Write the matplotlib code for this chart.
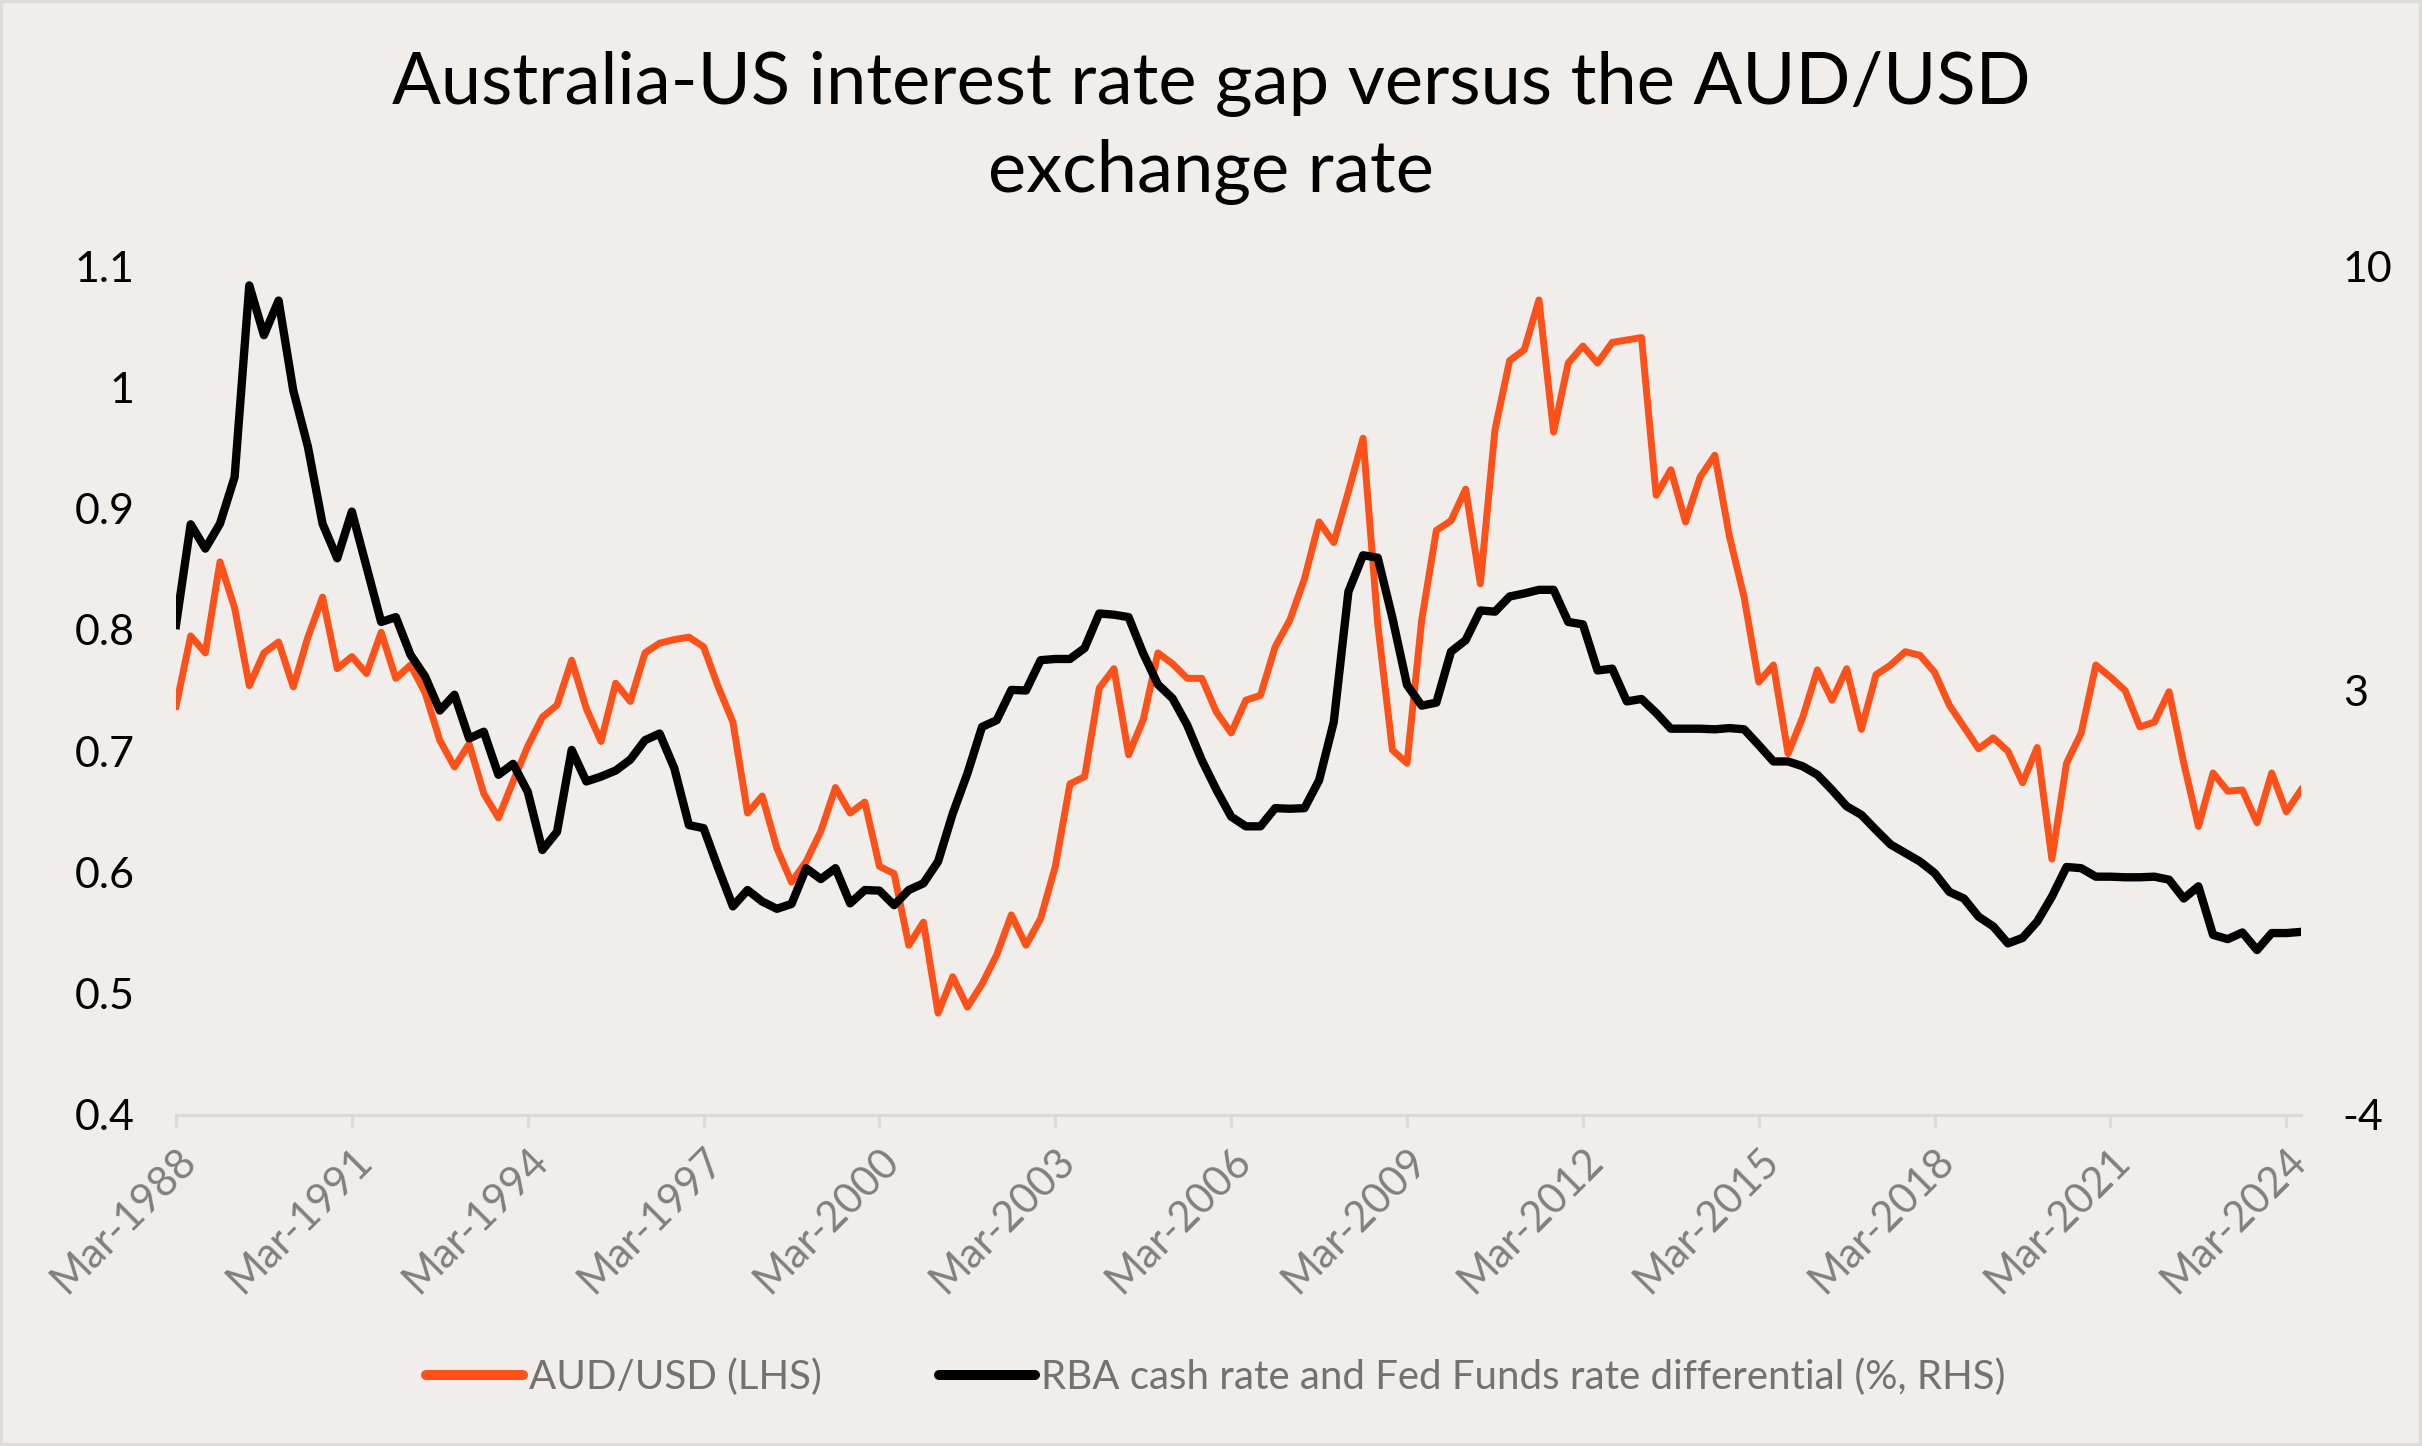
import matplotlib
matplotlib.use("Agg")
import matplotlib.pyplot as plt
from matplotlib.lines import Line2D
from matplotlib.patches import Rectangle
import numpy as np

# ---------------- data (quarterly, Mar-1988 .. Jun-2024) ----------------
aud_usd = [
    0.737, 0.795, 0.781, 0.856, 0.818, 0.754, 0.781, 0.790, 0.753, 0.794,
    0.827, 0.768, 0.778, 0.764, 0.798, 0.760, 0.771, 0.748, 0.709, 0.687,
    0.706, 0.665, 0.645, 0.675, 0.704, 0.728, 0.738, 0.775, 0.735, 0.708,
    0.756, 0.741, 0.781, 0.789, 0.792, 0.794, 0.786, 0.753, 0.724, 0.649,
    0.663, 0.620, 0.592, 0.609, 0.634, 0.670, 0.649, 0.658, 0.605, 0.599,
    0.540, 0.559, 0.484, 0.514, 0.489, 0.508, 0.532, 0.565, 0.540, 0.562,
    0.605, 0.673, 0.679, 0.752, 0.768, 0.697, 0.726, 0.781, 0.772, 0.760,
    0.760, 0.732, 0.715, 0.742, 0.746, 0.786, 0.808, 0.842, 0.889, 0.872,
    0.914, 0.958, 0.805, 0.701, 0.690, 0.808, 0.882, 0.890, 0.916, 0.838,
    0.965, 1.022, 1.031, 1.072, 0.963, 1.020, 1.034, 1.020, 1.037, 1.039,
    1.041, 0.911, 0.932, 0.889, 0.926, 0.944, 0.877, 0.827, 0.757, 0.771,
    0.698, 0.728, 0.767, 0.742, 0.768, 0.718, 0.763, 0.771, 0.782, 0.779,
    0.765, 0.738, 0.720, 0.702, 0.711, 0.700, 0.674, 0.703, 0.611, 0.690,
    0.715, 0.771, 0.761, 0.750, 0.720, 0.724, 0.749, 0.690, 0.638, 0.682,
    0.667, 0.668, 0.641, 0.682, 0.650, 0.668,
]

rate_diff = [
    4.08, 5.74, 5.34, 5.75, 6.52, 9.68, 8.86, 9.43, 7.95, 7.02,
    5.75, 5.18, 5.95, 5.04, 4.13, 4.21, 3.59, 3.23, 2.67, 2.93,
    2.21, 2.32, 1.61, 1.79, 1.33, 0.37, 0.67, 2.02, 1.50, 1.58,
    1.68, 1.86, 2.18, 2.29, 1.72, 0.78, 0.73, 0.07, -0.56, -0.29,
    -0.48, -0.60, -0.52, 0.07, -0.11, 0.07, -0.51, -0.29, -0.30, -0.54,
    -0.29, -0.18, 0.18, 0.97, 1.63, 2.40, 2.51, 3.01, 3.00, 3.50,
    3.52, 3.52, 3.70, 4.27, 4.25, 4.21, 3.61, 3.10, 2.87, 2.43,
    1.85, 1.36, 0.92, 0.76, 0.76, 1.06, 1.05, 1.06, 1.52, 2.48,
    4.63, 5.23, 5.19, 4.20, 3.09, 2.75, 2.80, 3.64, 3.83, 4.32,
    4.30, 4.55, 4.60, 4.66, 4.66, 4.13, 4.09, 3.33, 3.36, 2.82,
    2.86, 2.63, 2.37, 2.37, 2.37, 2.36, 2.38, 2.36, 2.10, 1.83,
    1.83, 1.75, 1.61, 1.36, 1.09, 0.95, 0.70, 0.46, 0.32, 0.18,
    -0.01, -0.32, -0.43, -0.73, -0.89, -1.17, -1.08, -0.81, -0.40, 0.09,
    0.07, -0.07, -0.07, -0.08, -0.08, -0.07, -0.12, -0.43, -0.23, -1.03,
    -1.10, -0.99, -1.28, -1.00, -1.00, -0.98,
]

tick_labels = ["Mar-1988", "Mar-1991", "Mar-1994", "Mar-1997", "Mar-2000",
               "Mar-2003", "Mar-2006", "Mar-2009", "Mar-2012", "Mar-2015",
               "Mar-2018", "Mar-2021", "Mar-2024"]
left_ticks = [0.4, 0.5, 0.6, 0.7, 0.8, 0.9, 1.0, 1.1]
left_tick_labels = ["0.4", "0.5", "0.6", "0.7", "0.8", "0.9", "1", "1.1"]
right_ticks = [-4, 3, 10]

title_line1 = "Australia-US interest rate gap versus the AUD/USD"
title_line2 = "exchange rate"
label_aud = "AUD/USD (LHS)"
label_diff = "RBA cash rate and Fed Funds rate differential (%, RHS)"

# ---------------- style ----------------
BG = "#F0EDEA"
ORANGE = "#FC5119"
GRID = "#D9D9D9"
GREY_TXT = "#767171"
FONT = ["Lato", "DejaVu Sans"]

plt.rcParams["font.family"] = FONT

DPI = 200
fig = plt.figure(figsize=(2422 / DPI, 1446 / DPI), dpi=DPI, facecolor=BG)
ax = fig.add_axes([176 / 2422, 1 - 1115 / 1446, (2301 - 176) / 2422, (1115 - 266) / 1446])
ax.set_facecolor("none")
ax2 = ax.twinx()

x = np.arange(len(aud_usd))
ax.plot(x, aud_usd, color=ORANGE, lw=2.5, solid_joinstyle="round", zorder=2)
ax2.plot(x, rate_diff, color="black", lw=3.0, solid_joinstyle="round", zorder=3)

ax.set_xlim(0, len(aud_usd) - 1)
ax.set_ylim(0.4, 1.1)
ax2.set_ylim(-4, 10)

ax.set_yticks(left_ticks)
ax.set_yticklabels(left_tick_labels)
ax2.set_yticks(right_ticks)
ax2.set_yticklabels([str(v) for v in right_ticks])

ax.set_xticks(np.arange(0, len(aud_usd), 12)[:len(tick_labels)])
ax.set_xticklabels(tick_labels, rotation=45, ha="right", va="top",
                   rotation_mode="anchor", color="#808080", fontsize=15)

ax.tick_params(axis="y", length=0, pad=15, labelsize=15.5, labelcolor="black")
ax2.tick_params(axis="y", length=0, pad=15, labelsize=15.5, labelcolor="black")
ax.tick_params(axis="x", length=4.3, width=1.1, color=GRID, pad=5)

for a in (ax, ax2):
    for side in ("top", "right", "left", "bottom"):
        a.spines[side].set_visible(False)
ax.spines["bottom"].set_visible(True)
ax.spines["bottom"].set_color(GRID)
ax.spines["bottom"].set_linewidth(1.1)

fig.text(0.5, 1 - 84 / 1446, title_line1,
         ha="center", va="center", fontsize=26, color="black")
fig.text(0.5, 1 - 172 / 1446, title_line2,
         ha="center", va="center", fontsize=26, color="black")

handles = [Line2D([], [], color=ORANGE, lw=3.6, solid_capstyle="round"),
           Line2D([], [], color="black", lw=3.6, solid_capstyle="round")]
leg = fig.legend(handles, [label_aud, label_diff], loc="center",
                 bbox_to_anchor=(1216 / 2422, 1 - 1377 / 1446), ncol=2,
                 frameon=False, fontsize=14.5, handlelength=2.4,
                 handletextpad=0.15, columnspacing=2.9)
for t in leg.get_texts():
    t.set_color(GREY_TXT)

fig.patches.append(Rectangle((0, 0), 1, 1, transform=fig.transFigure,
                             fill=False, edgecolor="#DCDCDC", lw=2.2, zorder=10))

fig.savefig("out.png", dpi=DPI, facecolor=BG)
